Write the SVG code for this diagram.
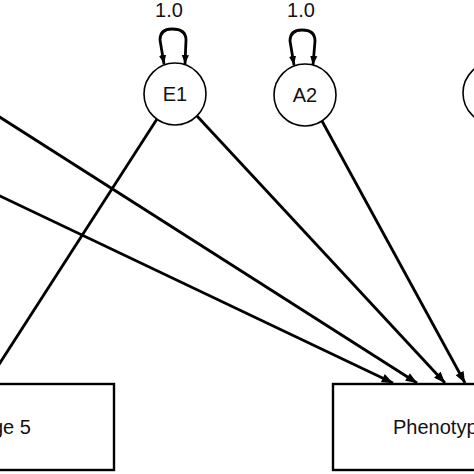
<svg xmlns="http://www.w3.org/2000/svg" width="474" height="474" viewBox="0 0 474 474">
<defs>
<style>
.node circle{fill:#fff;stroke:#000;stroke-width:1.6}
.node rect{fill:#fff;stroke:#000;stroke-width:2.4}
text{font-family:"Liberation Sans",Arial,sans-serif;fill:#111}
.lbl{font-size:20px}
.edge{fill:none;stroke:#000;stroke-width:2.8}
.loop{fill:none;stroke:#000;stroke-width:2.8}
</style>
<marker id="ah" viewBox="0 0 10 8" refX="10" refY="4" markerWidth="12" markerHeight="9" markerUnits="userSpaceOnUse" orient="auto">
<path d="M0,0 L10,4 L0,8 Z" fill="#000"/>
</marker>
<marker id="ahs" viewBox="0 0 10 8" refX="10" refY="4" markerWidth="9" markerHeight="8" markerUnits="userSpaceOnUse" orient="auto-start-reverse">
<path d="M0,0 L10,4 L0,8 Z" fill="#000"/>
</marker>
</defs>
<rect width="474" height="474" fill="#fff"/>
<g id="connectors">
<line class="edge" x1="-2" y1="116" x2="417" y2="383" marker-end="url(#ah)"/>
<line class="edge" x1="-2" y1="195" x2="393" y2="383" marker-end="url(#ah)"/>
<line class="edge" x1="197" y1="116" x2="445" y2="383" marker-end="url(#ah)"/>
<line class="edge" x1="322" y1="121" x2="465" y2="383" marker-end="url(#ah)"/>
<line class="edge" x1="157" y1="119" x2="-2" y2="366"/>
<path class="loop" d="M164,64 L160,40 Q160,29 172,29 Q186,29 186,40 L185,64" marker-start="url(#ahs)" marker-end="url(#ahs)"/>
<path class="loop" d="M294,65 L290,41 Q290,30 302,30 Q315,30 315,41 L313,65" marker-start="url(#ahs)" marker-end="url(#ahs)"/>
</g>
<g id="E1" class="node">
<circle cx="175" cy="94" r="31"/>
<text class="lbl" x="175" y="101" text-anchor="middle">E1</text>
<text class="lbl" x="169" y="17" text-anchor="middle">1.0</text>
</g>
<g id="A2" class="node">
<circle cx="305" cy="95" r="31"/>
<text class="lbl" x="305" y="102" text-anchor="middle">A2</text>
<text class="lbl" x="301" y="17" text-anchor="middle">1.0</text>
</g>
<g id="C3" class="node">
<circle cx="494" cy="93" r="31"/>
</g>
<g id="stage5" class="node">
<rect x="-20" y="384" width="134" height="86"/>
<text class="lbl" x="-8" y="434">ge 5</text>
</g>
<g id="phenotype" class="node">
<rect x="333" y="384" width="160" height="86"/>
<text class="lbl" x="393" y="434">Phenotyp</text>
</g>
</svg>
